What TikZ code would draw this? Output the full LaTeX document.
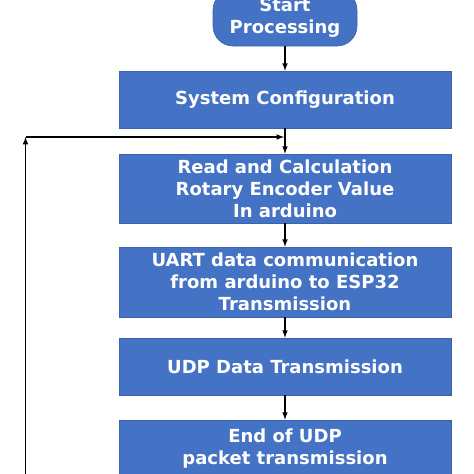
\documentclass[tikz,border=0pt]{standalone}
\usepackage{fontspec}
\setmainfont{DejaVu Sans}
\usetikzlibrary{calc}
\definecolor{boxblue}{HTML}{4472C4}
\definecolor{boxline}{HTML}{3A63AD}

\begin{document}
\begin{tikzpicture}[x=1pt,y=-1pt,
	procbox/.style={rectangle, draw=boxline, line width=0.6pt, fill=boxblue, text=white, font=\fontsize{18}{22}\selectfont\bfseries, align=center, minimum width=332pt, inner sep=0pt},
	startbox/.style={procbox, rounded corners=20pt, minimum width=144pt, minimum height=56pt},
	flow/.style={->,>=latex, line width=1.5pt}]
	\useasboundingbox (0,0) rectangle (474,474);
	\node[startbox] (start) at (285,18) {Start\\Processing};
	\node[procbox, minimum height=57pt] (config) at (285,99.5) {System Configuration};
	\node[procbox, minimum height=69pt] (read) at (285,188.5) {Read and Calculation\\Rotary Encoder Value\\In arduino};
	\node[procbox, minimum height=70pt] (uart) at (285,282) {UART data communication\\from arduino to ESP32\\Transmission};
	\node[procbox, minimum height=57pt] (udp) at (285,366.5) {UDP Data Transmission};
	\node[procbox, minimum height=57pt] (endudp) at (285,448.5) {End of UDP\\packet transmission};
	\foreach \a/\b in {start/config, config/read, read/uart, uart/udp, udp/endudp}{
		\draw[flow] (\a) -- (\b);
	}
	% loop back
	\coordinate (loopin) at (284,137);
	\coordinate (loopleft) at (25.5,137);
	\coordinate (loopbottom) at (25.5,480);
	\draw[flow] (loopbottom) -- (loopleft);
	\draw[flow] (loopleft) -- (loopin);
\end{tikzpicture}
\end{document}
